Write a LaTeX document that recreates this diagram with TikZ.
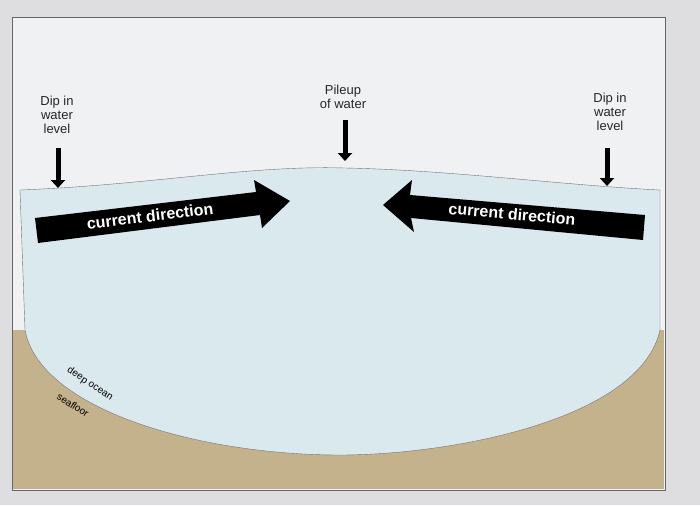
\documentclass[tikz,border=0pt]{standalone}
\usepackage{fontspec}
\setmainfont{Liberation Sans}
\definecolor{bg}{RGB}{222,222,224}
\definecolor{paper}{RGB}{240,241,242}
\definecolor{water}{RGB}{218,233,238}
\definecolor{sand}{RGB}{196,178,140}
\usetikzlibrary{arrows.meta}
\tikzset{lbl/.style={align=center,font=\fontsize{13}{14}\selectfont,text=black!85},
 dn/.style={-{Triangle[length=8pt,width=14pt]},line width=5pt},
 cur/.style={text=white,font=\bfseries\fontsize{16}{17}\selectfont}}
\begin{document}
\begin{tikzpicture}[x=1pt,y=-1pt]
\useasboundingbox (0,0) rectangle (700,505);
\fill[bg] (0,0) rectangle (700,505);
\fill[paper] (12,18) rectangle (665,490);
\draw[black!60,line width=1pt] (12,18) rectangle (665,490);
\fill[sand] (13,330) rectangle (664,489);
\fill[water,draw=black!55] (20,190) .. controls (150,185) and (250,165) .. (345,168) .. controls (450,170) and (560,185) .. (660,190) -- (660,330) .. controls (640,420) and (450,455) .. (340,455) .. controls (200,455) and (40,410) .. (25,330) -- cycle;
\node[lbl] (l) at (57,115) {Dip in\\water\\level};
\node[lbl] (m) at (343,97) {Pileup\\of water};
\node[lbl] (r) at (610,112) {Dip in\\water\\level};
\coordinate (ls) at (58,148); \coordinate (la) at (58,188);
\coordinate (ms) at (345,120); \coordinate (ma) at (345,161);
\coordinate (rs) at (607,148); \coordinate (ra) at (607,186);
\draw[dn] (ls) -- (la);
\draw[dn] (ms) -- (ma);
\draw[dn] (rs) -- (ra);
\fill[black] (35,218) -- (256,192) -- (254,180) -- (290,201) -- (262,228) -- (260,215) -- (38,243) -- cycle;
\fill[black] (645,215) -- (410,195) -- (412,180) -- (383,205) -- (414,232) -- (411,218) -- (643,240) -- cycle;
\node[cur,rotate=7] (c1) at (150,216) {current direction};
\node[cur,rotate=-5] (c2) at (512,214) {current direction};
\node[rotate=-33,font=\fontsize{10}{11}\selectfont] (d1) at (90,384) {deep ocean};
\node[rotate=-33,font=\fontsize{10}{11}\selectfont] (d2) at (73,405) {seafloor};
\end{tikzpicture}
\end{document}
